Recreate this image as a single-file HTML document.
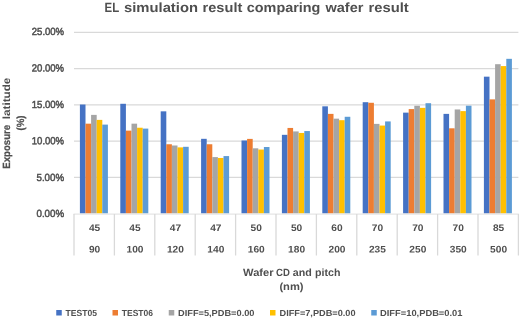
<!DOCTYPE html>
<html><head><meta charset="utf-8"><title>EL simulation result comparing wafer result</title>
<style>html,body{margin:0;padding:0;background:#fff;}svg{display:block;}text{font-family:"Liberation Sans",sans-serif;fill:#4f4f4f;text-rendering:geometricPrecision;}</style></head><body>
<svg width="520" height="318" viewBox="0 0 520 318">
<rect width="520" height="318" fill="#ffffff"/>
<defs><filter id="soft" x="0" y="0" width="520" height="318" filterUnits="userSpaceOnUse"><feGaussianBlur stdDeviation="0.4"/></filter></defs>
<g filter="url(#soft)"><rect width="520" height="318" fill="#ffffff"/>
<line x1="74.00" x2="518.40" y1="177.31" y2="177.31" stroke="#D9D9D9" stroke-width="1.3"/>
<line x1="74.00" x2="518.40" y1="141.07" y2="141.07" stroke="#D9D9D9" stroke-width="1.3"/>
<line x1="74.00" x2="518.40" y1="104.83" y2="104.83" stroke="#D9D9D9" stroke-width="1.3"/>
<line x1="74.00" x2="518.40" y1="68.59" y2="68.59" stroke="#D9D9D9" stroke-width="1.3"/>
<line x1="74.00" x2="518.40" y1="32.35" y2="32.35" stroke="#D9D9D9" stroke-width="1.3"/>
<rect x="79.90" y="104.52" width="5.60" height="108.93" fill="#4472C4"/>
<rect x="85.50" y="123.67" width="5.60" height="89.78" fill="#ED7D31"/>
<rect x="91.10" y="114.89" width="5.60" height="98.56" fill="#A5A5A5"/>
<rect x="96.70" y="119.89" width="5.60" height="93.56" fill="#FFC000"/>
<rect x="102.30" y="124.61" width="5.60" height="88.84" fill="#5B9BD5"/>
<rect x="120.30" y="103.79" width="5.60" height="109.66" fill="#4472C4"/>
<rect x="125.90" y="130.63" width="5.60" height="82.82" fill="#ED7D31"/>
<rect x="131.50" y="123.67" width="5.60" height="89.78" fill="#A5A5A5"/>
<rect x="137.10" y="127.73" width="5.60" height="85.72" fill="#FFC000"/>
<rect x="142.70" y="128.60" width="5.60" height="84.85" fill="#5B9BD5"/>
<rect x="160.70" y="111.34" width="5.60" height="102.11" fill="#4472C4"/>
<rect x="166.30" y="144.26" width="5.60" height="69.19" fill="#ED7D31"/>
<rect x="171.90" y="145.49" width="5.60" height="67.96" fill="#A5A5A5"/>
<rect x="177.50" y="147.38" width="5.60" height="66.07" fill="#FFC000"/>
<rect x="183.10" y="146.80" width="5.60" height="66.65" fill="#5B9BD5"/>
<rect x="201.10" y="138.82" width="5.60" height="74.63" fill="#4472C4"/>
<rect x="206.70" y="144.26" width="5.60" height="69.19" fill="#ED7D31"/>
<rect x="212.30" y="157.10" width="5.60" height="56.35" fill="#A5A5A5"/>
<rect x="217.90" y="157.97" width="5.60" height="55.48" fill="#FFC000"/>
<rect x="223.50" y="156.08" width="5.60" height="57.37" fill="#5B9BD5"/>
<rect x="241.50" y="140.49" width="5.60" height="72.96" fill="#4472C4"/>
<rect x="247.10" y="138.89" width="5.60" height="74.56" fill="#ED7D31"/>
<rect x="252.70" y="148.32" width="5.60" height="65.13" fill="#A5A5A5"/>
<rect x="258.30" y="149.55" width="5.60" height="63.90" fill="#FFC000"/>
<rect x="263.90" y="147.02" width="5.60" height="66.43" fill="#5B9BD5"/>
<rect x="281.90" y="134.83" width="5.60" height="78.62" fill="#4472C4"/>
<rect x="287.50" y="127.94" width="5.60" height="85.51" fill="#ED7D31"/>
<rect x="293.10" y="131.42" width="5.60" height="82.03" fill="#A5A5A5"/>
<rect x="298.70" y="132.95" width="5.60" height="80.50" fill="#FFC000"/>
<rect x="304.30" y="131.06" width="5.60" height="82.39" fill="#5B9BD5"/>
<rect x="322.30" y="106.33" width="5.60" height="107.12" fill="#4472C4"/>
<rect x="327.90" y="113.88" width="5.60" height="99.57" fill="#ED7D31"/>
<rect x="333.50" y="118.66" width="5.60" height="94.79" fill="#A5A5A5"/>
<rect x="339.10" y="120.18" width="5.60" height="93.27" fill="#FFC000"/>
<rect x="344.70" y="116.78" width="5.60" height="96.67" fill="#5B9BD5"/>
<rect x="362.70" y="102.20" width="5.60" height="111.25" fill="#4472C4"/>
<rect x="368.30" y="102.78" width="5.60" height="110.67" fill="#ED7D31"/>
<rect x="373.90" y="123.88" width="5.60" height="89.57" fill="#A5A5A5"/>
<rect x="379.50" y="125.55" width="5.60" height="87.90" fill="#FFC000"/>
<rect x="385.10" y="121.42" width="5.60" height="92.03" fill="#5B9BD5"/>
<rect x="403.10" y="112.64" width="5.60" height="100.81" fill="#4472C4"/>
<rect x="408.70" y="109.09" width="5.60" height="104.36" fill="#ED7D31"/>
<rect x="414.30" y="105.75" width="5.60" height="107.70" fill="#A5A5A5"/>
<rect x="419.90" y="107.86" width="5.60" height="105.59" fill="#FFC000"/>
<rect x="425.50" y="103.21" width="5.60" height="110.24" fill="#5B9BD5"/>
<rect x="443.50" y="113.88" width="5.60" height="99.57" fill="#4472C4"/>
<rect x="449.10" y="128.31" width="5.60" height="85.14" fill="#ED7D31"/>
<rect x="454.70" y="109.45" width="5.60" height="104.00" fill="#A5A5A5"/>
<rect x="460.30" y="111.12" width="5.60" height="102.33" fill="#FFC000"/>
<rect x="465.90" y="105.68" width="5.60" height="107.77" fill="#5B9BD5"/>
<rect x="483.90" y="76.67" width="5.60" height="136.78" fill="#4472C4"/>
<rect x="489.50" y="99.37" width="5.60" height="114.08" fill="#ED7D31"/>
<rect x="495.10" y="64.20" width="5.60" height="149.25" fill="#A5A5A5"/>
<rect x="500.70" y="66.08" width="5.60" height="147.37" fill="#FFC000"/>
<rect x="506.30" y="58.83" width="5.60" height="154.62" fill="#5B9BD5"/>
<line x1="73.50" x2="518.90" y1="214.1" y2="214.1" stroke="#E6E6E6" stroke-width="1.2"/>
<line x1="74.00" x2="74.00" y1="214.05" y2="255.5" stroke="#D9D9D9" stroke-width="1.3"/>
<line x1="114.40" x2="114.40" y1="214.05" y2="255.5" stroke="#D9D9D9" stroke-width="1.3"/>
<line x1="154.80" x2="154.80" y1="214.05" y2="255.5" stroke="#D9D9D9" stroke-width="1.3"/>
<line x1="195.20" x2="195.20" y1="214.05" y2="255.5" stroke="#D9D9D9" stroke-width="1.3"/>
<line x1="235.60" x2="235.60" y1="214.05" y2="255.5" stroke="#D9D9D9" stroke-width="1.3"/>
<line x1="276.00" x2="276.00" y1="214.05" y2="255.5" stroke="#D9D9D9" stroke-width="1.3"/>
<line x1="316.40" x2="316.40" y1="214.05" y2="255.5" stroke="#D9D9D9" stroke-width="1.3"/>
<line x1="356.80" x2="356.80" y1="214.05" y2="255.5" stroke="#D9D9D9" stroke-width="1.3"/>
<line x1="397.20" x2="397.20" y1="214.05" y2="255.5" stroke="#D9D9D9" stroke-width="1.3"/>
<line x1="437.60" x2="437.60" y1="214.05" y2="255.5" stroke="#D9D9D9" stroke-width="1.3"/>
<line x1="478.00" x2="478.00" y1="214.05" y2="255.5" stroke="#D9D9D9" stroke-width="1.3"/>
<line x1="518.40" x2="518.40" y1="214.05" y2="255.5" stroke="#D9D9D9" stroke-width="1.3"/>
<text class="yl" transform="translate(36.50,216.95) rotate(0.05)" font-size="10.3" stroke="#4f4f4f" stroke-width="0.5" textLength="27.6" lengthAdjust="spacingAndGlyphs">0.00%</text>
<text class="yl" transform="translate(36.50,180.95) rotate(0.05)" font-size="10.3" stroke="#4f4f4f" stroke-width="0.5" textLength="27.6" lengthAdjust="spacingAndGlyphs">5.00%</text>
<text class="yl" transform="translate(31.80,144.15) rotate(0.05)" font-size="10.3" stroke="#4f4f4f" stroke-width="0.5" textLength="32.3" lengthAdjust="spacingAndGlyphs">10.00%</text>
<text class="yl" transform="translate(31.80,108.0) rotate(0.05)" font-size="10.3" stroke="#4f4f4f" stroke-width="0.5" textLength="32.3" lengthAdjust="spacingAndGlyphs">15.00%</text>
<text class="yl" transform="translate(31.80,71.55) rotate(0.05)" font-size="10.3" stroke="#4f4f4f" stroke-width="0.5" textLength="32.3" lengthAdjust="spacingAndGlyphs">20.00%</text>
<text class="yl" transform="translate(31.80,35.0) rotate(0.05)" font-size="10.3" stroke="#4f4f4f" stroke-width="0.5" textLength="32.3" lengthAdjust="spacingAndGlyphs">25.00%</text>
<text class="cl" transform="translate(94.60,231.1) rotate(0.05) scale(1.06,1)" text-anchor="middle" font-size="9.6" font-weight="bold">45</text>
<text class="cl" transform="translate(94.60,252.4) rotate(0.05) scale(1.06,1)" text-anchor="middle" font-size="9.6" font-weight="bold">90</text>
<text class="cl" transform="translate(135.00,231.1) rotate(0.05) scale(1.06,1)" text-anchor="middle" font-size="9.6" font-weight="bold">45</text>
<text class="cl" transform="translate(135.00,252.4) rotate(0.05) scale(1.06,1)" text-anchor="middle" font-size="9.6" font-weight="bold">100</text>
<text class="cl" transform="translate(175.40,231.1) rotate(0.05) scale(1.06,1)" text-anchor="middle" font-size="9.6" font-weight="bold">47</text>
<text class="cl" transform="translate(175.40,252.4) rotate(0.05) scale(1.06,1)" text-anchor="middle" font-size="9.6" font-weight="bold">120</text>
<text class="cl" transform="translate(215.80,231.1) rotate(0.05) scale(1.06,1)" text-anchor="middle" font-size="9.6" font-weight="bold">47</text>
<text class="cl" transform="translate(215.80,252.4) rotate(0.05) scale(1.06,1)" text-anchor="middle" font-size="9.6" font-weight="bold">140</text>
<text class="cl" transform="translate(256.20,231.1) rotate(0.05) scale(1.06,1)" text-anchor="middle" font-size="9.6" font-weight="bold">50</text>
<text class="cl" transform="translate(256.20,252.4) rotate(0.05) scale(1.06,1)" text-anchor="middle" font-size="9.6" font-weight="bold">160</text>
<text class="cl" transform="translate(296.60,231.1) rotate(0.05) scale(1.06,1)" text-anchor="middle" font-size="9.6" font-weight="bold">50</text>
<text class="cl" transform="translate(296.60,252.4) rotate(0.05) scale(1.06,1)" text-anchor="middle" font-size="9.6" font-weight="bold">180</text>
<text class="cl" transform="translate(337.00,231.1) rotate(0.05) scale(1.06,1)" text-anchor="middle" font-size="9.6" font-weight="bold">60</text>
<text class="cl" transform="translate(337.00,252.4) rotate(0.05) scale(1.06,1)" text-anchor="middle" font-size="9.6" font-weight="bold">200</text>
<text class="cl" transform="translate(377.40,231.1) rotate(0.05) scale(1.06,1)" text-anchor="middle" font-size="9.6" font-weight="bold">70</text>
<text class="cl" transform="translate(377.40,252.4) rotate(0.05) scale(1.06,1)" text-anchor="middle" font-size="9.6" font-weight="bold">235</text>
<text class="cl" transform="translate(417.80,231.1) rotate(0.05) scale(1.06,1)" text-anchor="middle" font-size="9.6" font-weight="bold">70</text>
<text class="cl" transform="translate(417.80,252.4) rotate(0.05) scale(1.06,1)" text-anchor="middle" font-size="9.6" font-weight="bold">250</text>
<text class="cl" transform="translate(458.20,231.1) rotate(0.05) scale(1.06,1)" text-anchor="middle" font-size="9.6" font-weight="bold">70</text>
<text class="cl" transform="translate(458.20,252.4) rotate(0.05) scale(1.06,1)" text-anchor="middle" font-size="9.6" font-weight="bold">350</text>
<text class="cl" transform="translate(498.60,231.1) rotate(0.05) scale(1.06,1)" text-anchor="middle" font-size="9.6" font-weight="bold">85</text>
<text class="cl" transform="translate(498.60,252.4) rotate(0.05) scale(1.06,1)" text-anchor="middle" font-size="9.6" font-weight="bold">500</text>
<text x="104.60" y="12.1" font-size="13.3" font-weight="bold" textLength="14.60" lengthAdjust="spacingAndGlyphs">EL</text>
<text x="124.00" y="12.1" font-size="13.3" font-weight="bold" textLength="74.00" lengthAdjust="spacingAndGlyphs">simulation</text>
<text x="202.60" y="12.1" font-size="13.3" font-weight="bold" textLength="39.70" lengthAdjust="spacingAndGlyphs">result</text>
<text x="246.80" y="12.1" font-size="13.3" font-weight="bold" textLength="73.60" lengthAdjust="spacingAndGlyphs">comparing</text>
<text x="325.40" y="12.1" font-size="13.3" font-weight="bold" textLength="38.00" lengthAdjust="spacingAndGlyphs">wafer</text>
<text x="368.50" y="12.1" font-size="13.3" font-weight="bold" textLength="40.20" lengthAdjust="spacingAndGlyphs">result</text>
<text x="243.10" y="275.6" font-size="10.5" font-weight="bold" textLength="30.50" lengthAdjust="spacingAndGlyphs">Wafer</text>
<text x="276.00" y="275.6" font-size="10.5" font-weight="bold" textLength="13.80" lengthAdjust="spacingAndGlyphs">CD</text>
<text x="292.70" y="275.6" font-size="10.5" font-weight="bold" textLength="19.00" lengthAdjust="spacingAndGlyphs">and</text>
<text x="315.00" y="275.6" font-size="10.5" font-weight="bold" textLength="25.40" lengthAdjust="spacingAndGlyphs">pitch</text>
<text x="279.40" y="290.1" font-size="10.5" font-weight="bold" textLength="24.20" lengthAdjust="spacingAndGlyphs">(nm)</text>
<text transform="translate(9.5,168.70) rotate(-90)" font-size="10.4" font-weight="bold" stroke="#4f4f4f" stroke-width="0.25" textLength="43.80" lengthAdjust="spacingAndGlyphs">Exposure</text>
<text transform="translate(9.5,119.30) rotate(-90)" font-size="10.4" font-weight="bold" textLength="41.70" lengthAdjust="spacingAndGlyphs">latitude</text>
<text transform="translate(24.1,130.60) rotate(-90)" font-size="10.4" font-weight="bold" stroke="#4f4f4f" stroke-width="0.25" textLength="15.10" lengthAdjust="spacingAndGlyphs">(%)</text>
<rect x="56.25" y="310" width="5.5" height="5.5" fill="#4472C4"/>
<text class="lg" x="65.50" y="315.6" font-size="8.8" font-weight="bold" textLength="31.50" lengthAdjust="spacingAndGlyphs">TEST05</text>
<rect x="112.50" y="310" width="5.5" height="5.5" fill="#ED7D31"/>
<text class="lg" x="121.75" y="315.6" font-size="8.8" font-weight="bold" textLength="31.25" lengthAdjust="spacingAndGlyphs">TEST06</text>
<rect x="168.75" y="310" width="5.5" height="5.5" fill="#A5A5A5"/>
<text class="lg" x="178.00" y="315.6" font-size="8.8" font-weight="bold" textLength="76.50" lengthAdjust="spacingAndGlyphs">DIFF=5,PDB=0.00</text>
<rect x="270.00" y="310" width="5.5" height="5.5" fill="#FFC000"/>
<text class="lg" x="279.50" y="315.6" font-size="8.8" font-weight="bold" textLength="76.00" lengthAdjust="spacingAndGlyphs">DIFF=7,PDB=0.00</text>
<rect x="371.25" y="310" width="5.5" height="5.5" fill="#5B9BD5"/>
<text class="lg" x="380.00" y="315.6" font-size="8.8" font-weight="bold" textLength="82.50" lengthAdjust="spacingAndGlyphs">DIFF=10,PDB=0.01</text>
</g></svg></body></html>
